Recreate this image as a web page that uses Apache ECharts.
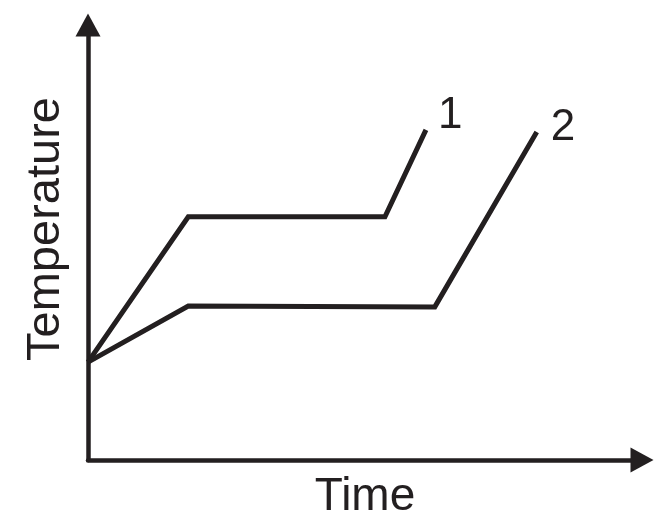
<!DOCTYPE html>
<html>
<head>
<meta charset="utf-8">
<script src="https://cdn.jsdelivr.net/npm/echarts@6/dist/echarts.min.js"></script>
<style>html,body{margin:0;padding:0;background:#fff}#c{width:670px;height:529px}</style>
</head>
<body>
<div id="c"></div>
<script>
var seriesNames = ['1', '2'];
var curve1 = [[0, 22.5], [18.1, 55.9], [53.6, 55.9], [61.0, 75.9]];
var curve2 = [[0, 22.5], [18.1, 35.4], [62.6, 35.2], [81.0, 75.4]];
var xAxisName = 'Time';
var yAxisName = 'Temperature';

var ink = '#231f20';
var chart = echarts.init(document.getElementById('c'), null, {renderer: 'canvas'});
function mkSeries(name, data, off) {
  return {
    type: 'line', name: name, data: data, symbol: 'none', silent: true,
    lineStyle: {color: ink, width: 5, join: 'miter'},
    endLabel: {show: true, formatter: '{a}', color: ink, fontFamily: 'Liberation Sans', fontSize: 44, offset: off, distance: 6}
  };
}
var axisCommon = {
  type: 'value', min: 0, max: 100,
  splitLine: {show: false}, axisTick: {show: false}, axisLabel: {show: false},
  axisLine: {show: true, onZero: false, symbol: ['none', 'triangle'], symbolSize: [25, 23], lineStyle: {color: ink, width: 4.5}},
  nameLocation: 'middle',
  nameTextStyle: {color: ink, fontFamily: 'Liberation Sans', fontSize: 45}
};
chart.setOption({
  animation: false,
  grid: {left: 88, right: 28, top: 25, bottom: 69},
  xAxis: Object.assign({}, axisCommon, {name: xAxisName, nameGap: 14,
    nameTextStyle: Object.assign({}, axisCommon.nameTextStyle, {fontSize: 46})}),
  yAxis: Object.assign({}, axisCommon, {name: yAxisName, nameGap: 18, nameRotate: 90,
    nameTextStyle: Object.assign({}, axisCommon.nameTextStyle, {fontSize: 47, padding: [0, 0, 0, 27]})}),
  series: [mkSeries(seriesNames[0], curve1, [6, -14]), mkSeries(seriesNames[1], curve2, [8, -4])]
});
</script>
</body>
</html>
